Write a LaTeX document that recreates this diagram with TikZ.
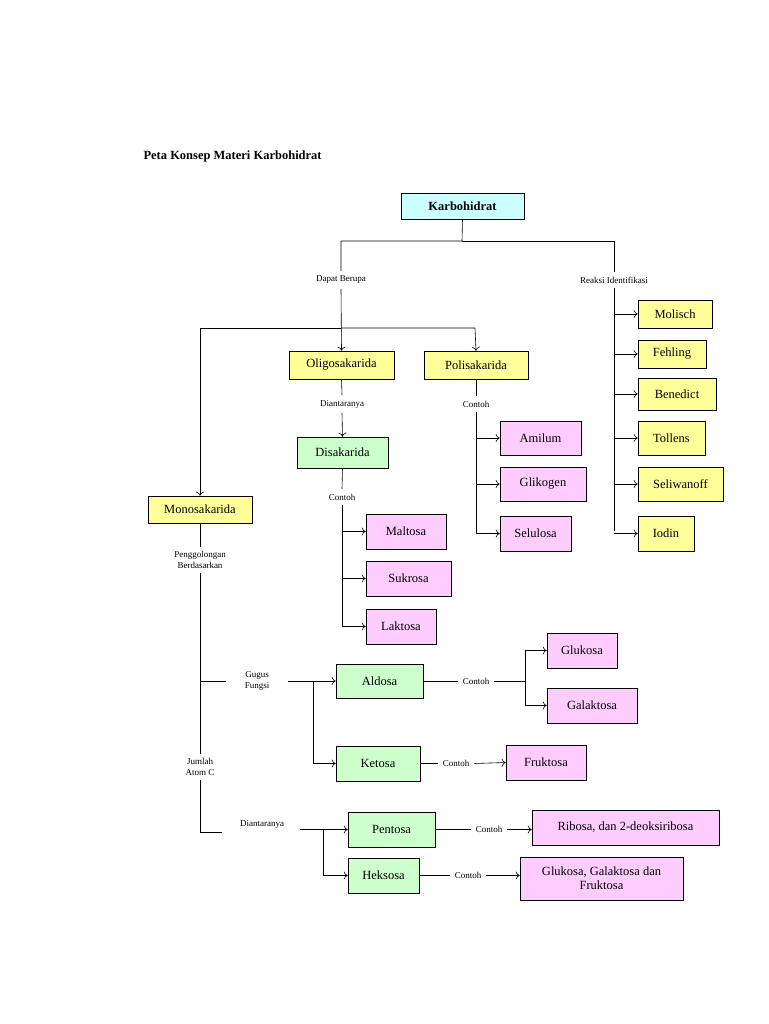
\documentclass[tikz,border=0pt]{standalone}
\usepackage{fontspec}
\setmainfont{Liberation Serif}
\usetikzlibrary{arrows.meta}
\definecolor{cy}{HTML}{CCFFFF}
\definecolor{ye}{HTML}{FFFF99}
\definecolor{gr}{HTML}{CCFFCC}
\definecolor{pk}{HTML}{FFCCFF}
\newcommand\bx[7]{\node[box,fill=#2,minimum width={(#5-#3)*1pt},minimum height={(#6-#4)*1pt}] (#1) at ({(#3+#5)/2},{-(#4+#6)/2}) {#7};}
\newcommand\lb[4]{\node[lab] (#1) at (#2,-#3) {#4};}
\begin{document}
\begin{tikzpicture}[x=1pt,y=1pt,
 box/.style={draw,line width=0.6pt,inner sep=1pt,font=\fontsize{12.5}{14}\selectfont,align=center},
 lab/.style={font=\fontsize{9}{10.5}\selectfont,align=center,inner sep=1pt,outer sep=4pt},
 ln/.style={line width=0.6pt},
 ar/.style={ln,-{To[length=4pt,width=8pt]}}]
\useasboundingbox (0,0) rectangle (768,-1024);
\node[anchor=west,font=\bfseries\fontsize{12.5}{14}\selectfont] (title) at (140,-156) {Peta Konsep Materi Karbohidrat};
\bx{karb}{cy}{401}{193}{524}{219}{\textbf{Karbohidrat}}
\bx{oligo}{ye}{289}{351}{394}{379}{Oligosakarida}
\bx{poli}{ye}{424}{351}{528}{379}{Polisakarida}
\bx{mono}{ye}{148}{496}{252}{523}{Monosakarida}
\bx{disa}{gr}{297}{437}{388}{468}{Disakarida}
\bx{mol}{ye}{638}{300}{712}{328}{Molisch}
\bx{feh}{ye}{638}{340}{706}{368}{Fehling}
\bx{ben}{ye}{638}{378}{716}{410}{Benedict}
\bx{tol}{ye}{638}{421}{705}{455}{Tollens}
\bx{sel}{ye}{638}{467}{723}{501}{Seliwanoff}
\bx{iod}{ye}{638}{516}{694}{551}{Iodin}
\bx{mal}{pk}{366}{514}{446}{549}{Maltosa}
\bx{suk}{pk}{366}{561}{451}{596}{Sukrosa}
\bx{lak}{pk}{366}{609}{436}{644}{Laktosa}
\bx{ami}{pk}{500}{421}{581}{455}{Amilum}
\bx{gli}{pk}{500}{467}{586}{501}{Glikogen}
\bx{selu}{pk}{500}{516}{571}{551}{Selulosa}
\bx{ald}{gr}{336}{664}{423}{698}{Aldosa}
\bx{ket}{gr}{336}{746}{420}{781}{Ketosa}
\bx{glu}{pk}{547}{633}{617}{668}{Glukosa}
\bx{gal}{pk}{547}{688}{637}{723}{Galaktosa}
\bx{fru}{pk}{506}{745}{586}{780}{Fruktosa}
\bx{pen}{gr}{348}{812}{435}{847}{Pentosa}
\bx{hek}{gr}{348}{858}{419}{893}{Heksosa}
\bx{rib}{pk}{532}{810}{719}{845}{Ribosa, dan 2-deoksiribosa}
\bx{ggf}{pk}{520}{857}{683}{900}{Glukosa, Galaktosa dan\\Fruktosa}
\lb{dapat}{341}{280}{Dapat Berupa}
\lb{reaksi}{614}{280}{Reaksi Identifikasi}
\lb{dia1}{342}{404}{Diantaranya}
\lb{con1}{476}{404}{Contoh}
\lb{con2}{342}{497}{Contoh}
\lb{peng}{200}{560}{Penggolongan\\Berdasarkan}
\lb{gugus}{257}{681}{Gugus\\Fungsi}
\lb{jumlah}{200}{767}{Jumlah\\Atom C}
\lb{dia2}{262}{824}{Diantaranya}
\lb{con3}{476}{681}{Contoh}
\lb{con4}{456}{763.5}{Contoh}
\lb{con5}{489}{829.5}{Contoh}
\lb{con6}{468}{875.5}{Contoh}
% top
\draw[ln] (karb.south) -- (462,-241) -- (341,-241) -- (dapat.north);
\draw[ln] (462,-241) -- (614,-241) -- (reaksi.north);
\draw[ar] (dapat.south) -- (oligo.north);
\draw[ar] (341,-328) -- (200,-328) -- (mono.north);
\draw[ar] (341,-328) -- (475,-328) -- (poli.north);
% reaksi
\draw[ln] (reaksi.south) -- (614,-531);
\foreach \n in {mol,feh,ben,tol,sel,iod} \draw[ar] (\n.west -| 614,0) -- (\n.west);
% oligo
\draw[ln] (oligo.south) -- (dia1.north);
\draw[ar] (dia1.south) -- (disa.north);
\draw[ln] (disa.south) -- (con2.north);
\draw[ln] (con2.south) -- (342,-626.5);
\foreach \n in {mal,suk,lak} \draw[ar] (\n.west -| 342,0) -- (\n.west);
% poli
\draw[ln] (poli.south) -- (con1.north);
\draw[ln] (con1.south) -- (476,-533.5);
\foreach \n in {ami,gli,selu} \draw[ar] (\n.west -| 476,0) -- (\n.west);
% mono
\draw[ln] (mono.south) -- (peng.north);
\draw[ln] (peng.south) -- (jumlah.north);
\draw[ln] (jumlah.south) -- (200,-832) -- (222,-832);
\draw[ln] (200,-681) -- (226,-681);
\draw[ar] (288,-681) -- (ald.west);
\draw[ar] (313,-681) -- (313,-763.5) -- (ket.west);
\draw[ln] (ald.east) -- (con3.west);
\draw[ln] (con3.east) -- (525,-681);
\draw[ln] (525,-650.5) -- (525,-705.5);
\draw[ar] (glu.west -| 525,0) -- (glu.west);
\draw[ar] (gal.west -| 525,0) -- (gal.west);
\draw[ln] (ket.east) -- (con4.west);
\draw[ar] (con4.east) -- (fru.west);
\draw[ar] (300,-829.5) -- (pen.west);
\draw[ar] (323,-829.5) -- (323,-875.5) -- (hek.west);
\draw[ln] (pen.east) -- (con5.west);
\draw[ar] (con5.east) -- (con5.east -| rib.west);
\draw[ln] (hek.east) -- (con6.west);
\draw[ar] (con6.east) -- (con6.east -| ggf.west);
\end{tikzpicture}
\end{document}
